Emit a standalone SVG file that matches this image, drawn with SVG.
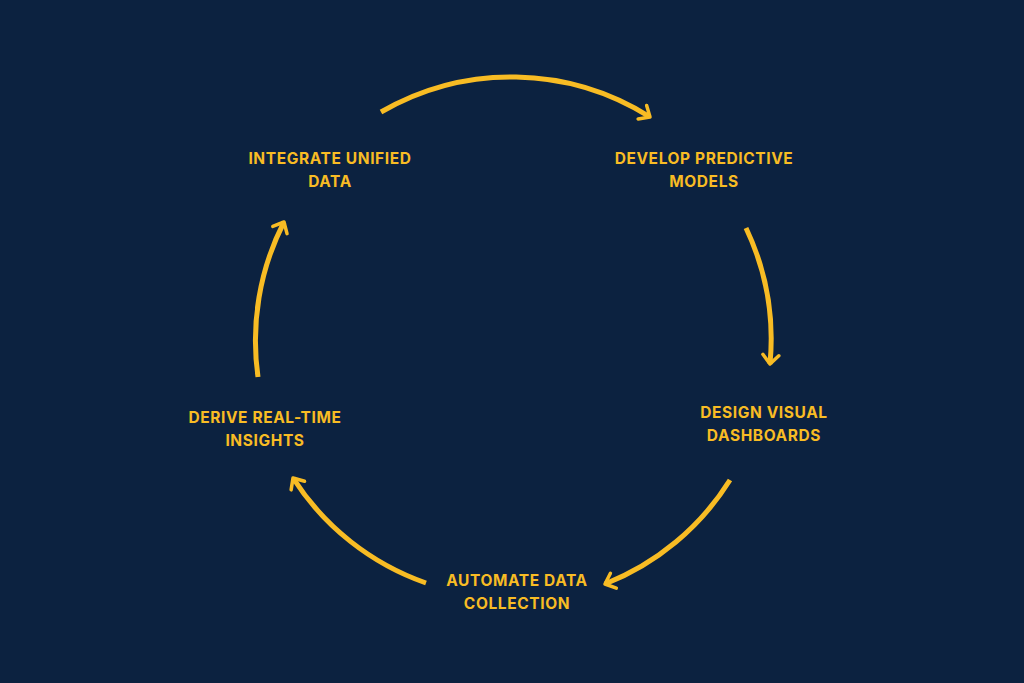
<svg xmlns="http://www.w3.org/2000/svg" width="1024" height="683" viewBox="0 0 1024 683">
<defs>
<style>
.t{font-family:Inter,"Liberation Sans",sans-serif;font-weight:700;font-size:15.5px;fill:#f8bc24;text-anchor:middle;letter-spacing:0.6px}
.c{fill:none;stroke:#f8bc24;stroke-width:5;stroke-linecap:butt}
</style>
<marker id="ah" viewBox="0 0 20 20" refX="12" refY="10" markerWidth="20" markerHeight="20" markerUnits="userSpaceOnUse" orient="auto">
<path d="M3,2 L12,10 L3,18" fill="none" stroke="#f8bc24" stroke-width="3.5" stroke-linecap="round" stroke-linejoin="round"/>
</marker>
</defs>
<rect width="1024" height="683" fill="#0c2240"/>
<g id="connectors">
<path class="c" marker-end="url(#ah)" d="M381,112 A260,260 0 0 1 650,117"/>
<path class="c" marker-end="url(#ah)" d="M746,228 A260,260 0 0 1 770,364"/>
<path class="c" marker-end="url(#ah)" d="M730,480 A260,260 0 0 1 605,584"/>
<path class="c" marker-end="url(#ah)" d="M426,583 A260,260 0 0 1 293,478"/>
<path class="c" marker-end="url(#ah)" d="M258,377 A260,260 0 0 1 284,222"/>
</g>
<g id="n1"><text class="t" x="330" y="164">INTEGRATE UNIFIED</text><text class="t" x="330" y="187">DATA</text></g>
<g id="n2"><text class="t" x="704" y="164">DEVELOP PREDICTIVE</text><text class="t" x="704" y="187">MODELS</text></g>
<g id="n3"><text class="t" x="764" y="418">DESIGN VISUAL</text><text class="t" x="764" y="441">DASHBOARDS</text></g>
<g id="n4"><text class="t" x="517" y="586">AUTOMATE DATA</text><text class="t" x="517" y="609">COLLECTION</text></g>
<g id="n5"><text class="t" x="265" y="423">DERIVE REAL-TIME</text><text class="t" x="265" y="446">INSIGHTS</text></g>
</svg>
